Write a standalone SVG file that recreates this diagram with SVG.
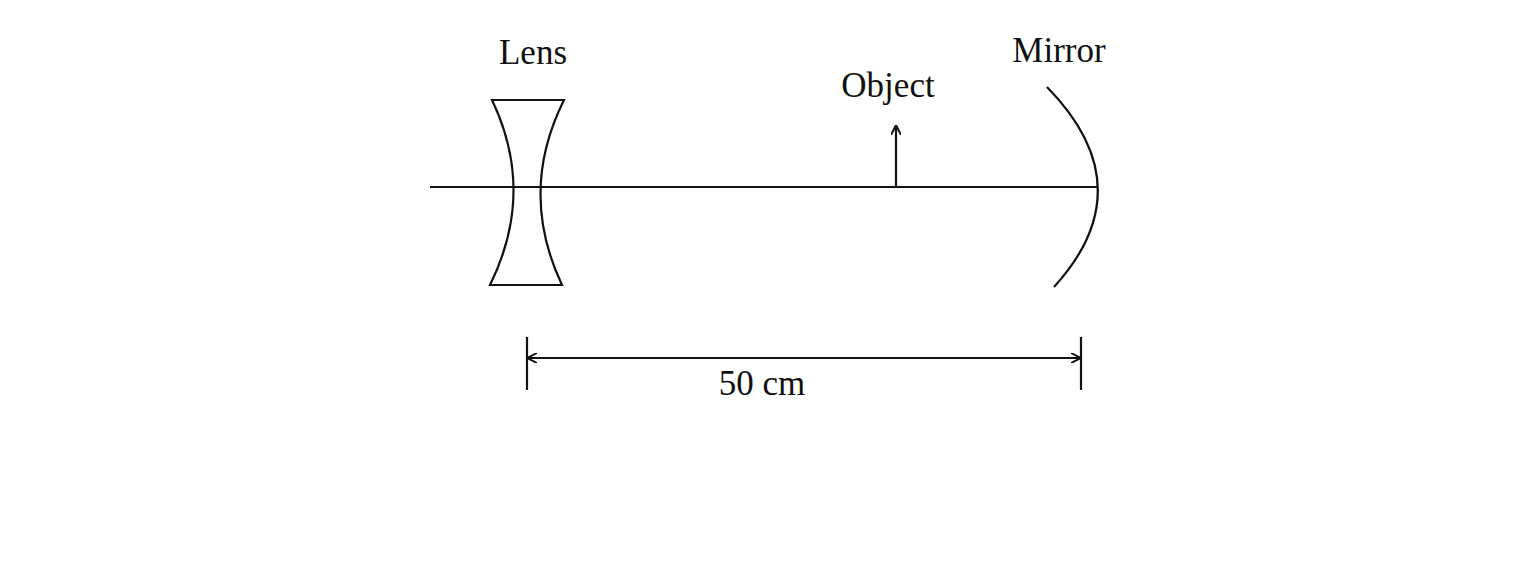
<svg xmlns="http://www.w3.org/2000/svg" width="1519" height="563" viewBox="0 0 1519 563">
<style>
.l{stroke:#111;fill:none;stroke-width:2.2}
.t{font-family:"Liberation Serif",serif;font-size:35px;fill:#111;text-anchor:middle}
</style>
<defs>
<marker id="ah" viewBox="0 0 10 10" refX="9" refY="5" markerWidth="10" markerHeight="10" markerUnits="userSpaceOnUse" orient="auto-start-reverse"><path d="M0,0 L10,5 L0,10" fill="none" stroke="#111" stroke-width="2"/></marker>
</defs>
<rect width="1519" height="563" fill="#fff"/>
<g id="axis"><line class="l" x1="430" y1="187" x2="1097" y2="187"/></g>
<g id="lens">
<path class="l" d="M492,100 L564,100 Q518,192 562,285 L490,285 Q536,192 492,100 Z"/>
<text class="t" x="533" y="64">Lens</text>
</g>
<g id="object">
<line class="l" x1="896" y1="187" x2="896" y2="126" marker-end="url(#ah)" stroke-width="3"/>
<text class="t" x="888" y="97">Object</text>
</g>
<g id="mirror">
<path class="l" d="M1047,87 Q1145,187 1054,287" stroke-width="2.8"/>
<text class="t" x="1059" y="62">Mirror</text>
</g>
<g id="connectors">
<line class="l" x1="527" y1="337" x2="527" y2="390"/>
<line class="l" x1="1081" y1="337" x2="1081" y2="390"/>
<line class="l" x1="528" y1="358" x2="1080" y2="358" marker-start="url(#ah)" marker-end="url(#ah)"/>
<text class="t" x="762" y="395">50 cm</text>
</g>
</svg>
